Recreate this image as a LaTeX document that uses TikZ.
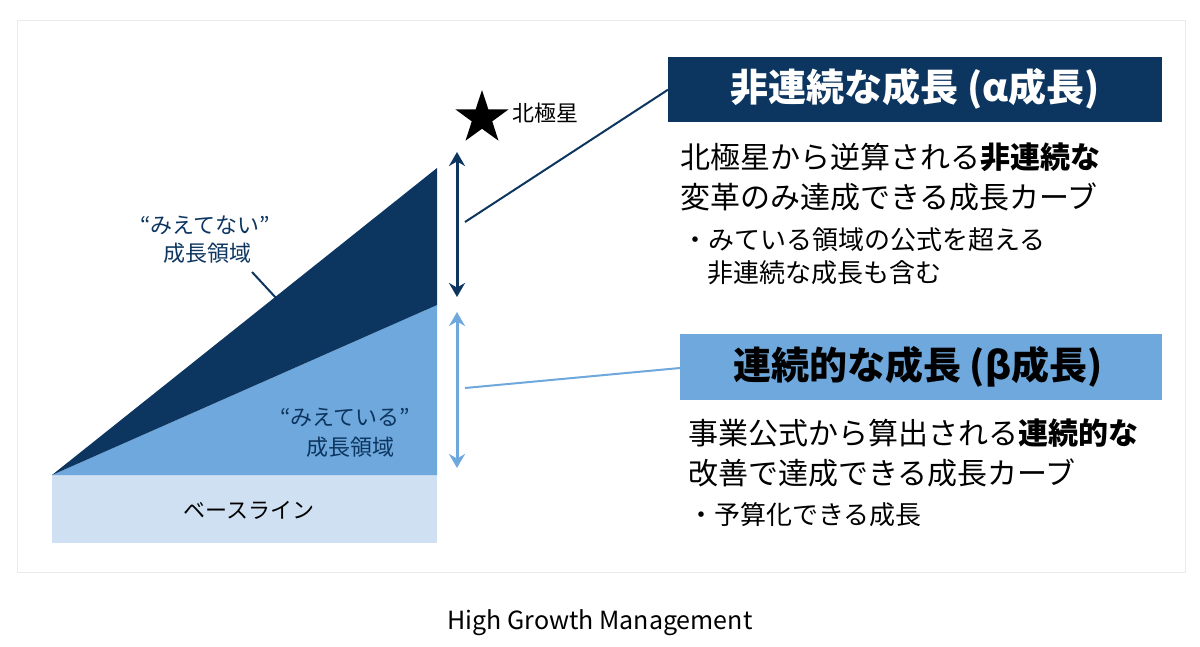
\documentclass[tikz,border=0pt]{standalone}
\usepackage{fontspec}
\setmainfont{Noto Sans CJK JP}
\usetikzlibrary{arrows.meta,shapes.geometric}
\definecolor{dk}{HTML}{0C355F}
\definecolor{md}{HTML}{6FA8DC}
\definecolor{lt}{HTML}{CFE0F3}
\begin{document}
\begin{tikzpicture}[x=1pt,y=-1pt,
 body/.style={anchor=west,inner sep=0,font=\fontsize{30}{34}\selectfont},
 sub/.style={anchor=west,inner sep=0,font=\fontsize{26}{30}\selectfont},
 lab/.style={inner sep=0,font=\fontsize{22}{26}\selectfont},
 dbl/.style={{Stealth[length=14pt,width=16pt]}-{Stealth[length=14pt,width=16pt]},line width=3pt}]
\useasboundingbox (0,0) rectangle (1200,646);
\draw[black!8] (17,20) rectangle (1185,572);
\fill[lt] (52,475) rectangle (437,543);
\fill[md] (52,475) -- (437,305) -- (437,475) -- cycle;
\fill[dk] (52,475) -- (437,168) -- (437,305) -- cycle;
\node[lab] at (249,510) {ベースライン};
\node[lab,dk] (ml1) at (205,225) {“みえてない”};
\node[lab,dk] (ml2) at (207,253) {成長領域};
\coordinate (mlc) at (277,299);
\draw[dk,line width=2pt] (252,272) -- (mlc);
\node[lab,dk] at (345,417) {“みえている”};
\node[lab,dk] at (350,447) {成長領域};
\coordinate (a1) at (457,152); \coordinate (a2) at (457,297);
\coordinate (b1) at (457,312); \coordinate (b2) at (457,468);
\draw[dbl,dk] (a1) -- (a2);
\draw[dbl,md] (b1) -- (b2);
\node[star,star points=5,star point ratio=2.6,fill=black,minimum size=56pt,inner sep=0] (star) at (482,118) {};
\node[lab,anchor=west] (pole) at (512,113) {北極星};
\node[fill=dk,minimum width=494pt,minimum height=65pt,anchor=north west,inner sep=0] (h1) at (668,57) {};
\node[white,font=\fontsize{38}{42}\selectfont\bfseries] at (915,89) {非連続な成長 (α成長)};
\node[fill=md,minimum width=482pt,minimum height=66pt,anchor=north west,inner sep=0] (h2) at (680,334) {};
\node[font=\fontsize{38}{42}\selectfont\bfseries] at (918,367) {連続的な成長 (β成長)};
\coordinate (c1) at (465,222); \coordinate (c2) at (465,388);
\draw[dk,line width=2pt] (c1) -- (h1.west);
\draw[md,line width=2pt] (c2) -- (680,368);
\node[body] at (680,157) {北極星から逆算される\textbf{非連続な}};
\node[body] at (680,197) {変革のみ達成できる成長カーブ};
\node[sub] at (682,240) {・みている領域の公式を超える};
\node[sub] at (707,273) {非連続な成長も含む};
\node[body] at (688,433) {事業公式から算出される\textbf{連続的な}};
\node[body] at (688,473) {改善で達成できる成長カーブ};
\node[sub] at (688,515) {・予算化できる成長};
\node[font=\fontsize{25}{28}\selectfont] at (600,623) {High Growth Management};
\end{tikzpicture}
\end{document}
